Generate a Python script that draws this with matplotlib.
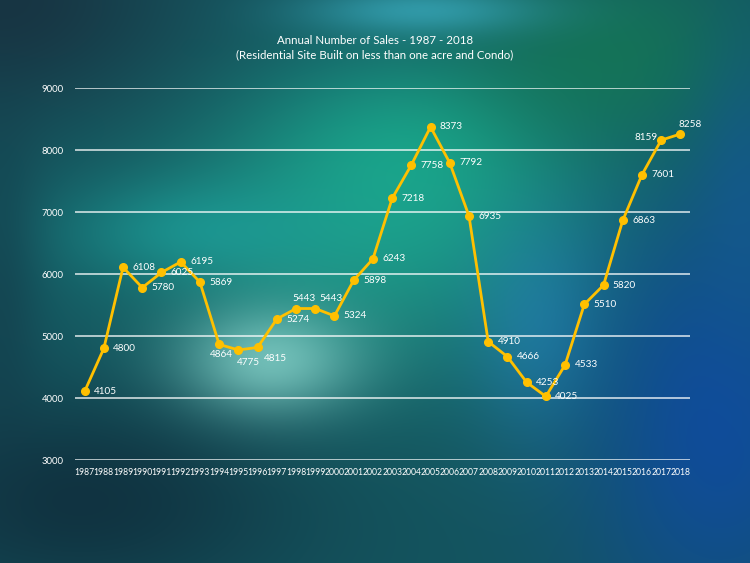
"""
annual number of sales, 1987 - 2018
"""

import numpy as np
from matplotlib import pyplot as plt

years = [str(y) for y in range(1987, 2019)]
sales = [4105, 4800, 6108, 5780, 6025, 6195, 5869, 4864, 4775, 4815,
         5274, 5443, 5443, 5324, 5898, 6243, 7218, 7758, 8373, 7792,
         6935, 4910, 4666, 4253, 4025, 4533, 5510, 5820, 6863, 7601,
         8159, 8258]
yticks = [3000, 4000, 5000, 6000, 7000, 8000, 9000]

# label offsets in pixels, +dy is downward (default: right of the point)
label_offsets = {7: (-9, 10), 8: (-1, 12), 9: (6, 11),
                 11: (-3, -10), 12: (4, -10), 30: (-26, -3), 31: (-2, -9)}

plt.rcParams['font.family'] = ['Lato', 'DejaVu Sans']


def make_background(w=750, h=563):
	yy, xx = np.mgrid[0:h, 0:w]
	img = np.zeros((h, w, 3))
	img[:] = np.array([20, 85, 95]) / 255.0

	def blob(cx, cy, sx, sy, color, strength):
		g = np.exp(-(((xx - cx) / sx) ** 2 + ((yy - cy) / sy) ** 2))
		return (g * strength)[..., None], np.array(color) / 255.0

	blobs = [
		(380, 230, 230, 150, (30, 160, 140), 0.85),
		(420, 150, 140, 90, (25, 185, 150), 0.6),
		(200, 230, 130, 50, (30, 170, 165), 0.55),
		(620, 60, 150, 110, (20, 125, 80), 0.7),
		(420, 10, 120, 25, (60, 175, 195), 0.7),
		(540, 330, 70, 110, (40, 140, 190), 0.55),
		(720, 420, 140, 220, (15, 75, 160), 0.9),
		(745, 200, 50, 150, (20, 90, 150), 0.6),
		(80, 500, 220, 110, (15, 40, 55), 0.75),
		(0, 0, 180, 120, (25, 45, 60), 0.8),
		(0, 300, 40, 200, (20, 55, 70), 0.5),
		(270, 360, 90, 55, (150, 225, 215), 0.7),
	]
	for b in blobs:
		g, c = blob(*b)
		img = img * (1 - g) + c * g
	return np.clip(img, 0, 1)


def create_chart():
	fig = plt.figure(figsize=(7.5, 5.63), dpi=100)
	bg = fig.add_axes([0, 0, 1, 1])
	bg.imshow(make_background(), aspect='auto')
	bg.axis('off')

	ax = fig.add_axes([0.1, 1 - 460 / 563, 0.82, (460 - 88) / 563])
	ax.patch.set_alpha(0)
	x = np.arange(len(years))
	ax.plot(x, sales, color='#ffc000', lw=2.0, marker='o', ms=5.5, zorder=3)

	for i, v in enumerate(sales):
		dx, dy = label_offsets.get(i, (9, 0))
		ax.annotate(str(v), (i, v), xytext=(dx * 0.75, -dy * 0.75),
			textcoords='offset points', color='white', fontsize=7.2,
			ha='left', va='center')

	ax.set_xlim(-0.5, len(years) - 0.5)
	ax.set_ylim(3000, 9000)
	ax.set_yticks(yticks)
	ax.set_xticks(x)
	ax.set_xticklabels(years)
	ax.grid(axis='y', color='white', lw=1.2, alpha=0.8)
	ax.set_axisbelow(True)
	for s in ax.spines.values():
		s.set_visible(False)
	ax.tick_params(length=0, colors='white', labelsize=6.8)
	ax.tick_params(axis='x', labelsize=6.2, pad=6)
	ax.tick_params(axis='y', pad=8)

	fig.text(0.5, 1 - 40 / 563, 'Annual Number of Sales - 1987 - 2018',
		ha='center', va='center', color='white', fontsize=8.3)
	fig.text(0.5, 1 - 55 / 563, '(Residential Site Built on less than one acre and Condo)',
		ha='center', va='center', color='white', fontsize=8.3)

	fig.savefig('out.png', dpi=100)


if __name__ == '__main__':
	create_chart()
